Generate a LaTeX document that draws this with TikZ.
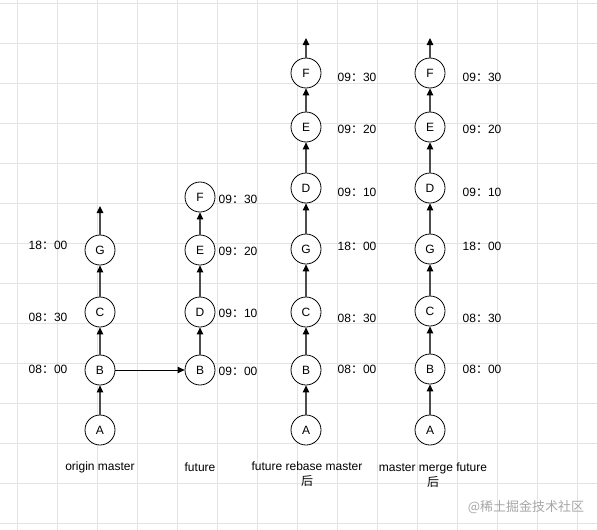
\documentclass[tikz,border=0pt]{standalone}
\usepackage{fontspec}
\setmainfont{Liberation Sans}
\newfontfamily\cjk{Noto Sans CJK SC}
\usetikzlibrary{arrows.meta}
\newcommand{\hm}[2]{#1{\cjk ：}#2}

\begin{document}
\begin{tikzpicture}[x=1pt,y=-1pt,font=\fontsize{12}{15}\selectfont,
  gridline/.style={draw=black!11,line width=0.7pt},
  commit/.style={circle,draw,fill=white,minimum size=30pt,inner sep=0pt,line width=0.8pt},
  edge/.style={draw=black!70,line width=1.2pt,-{Triangle[length=7pt,width=6.5pt,color=black]}},
  merge/.style={draw=black,line width=0.8pt,-{Triangle[length=7pt,width=6.5pt]}},
  caption/.style={align=center,font=\fontsize{12}{15}\selectfont}]
\useasboundingbox (0,0) rectangle (597,530);

% grid
\foreach \gx in {17,57,...,577} \draw[gridline] (\gx,0) -- (\gx,530);
\foreach \gy in {3,43,...,523} \draw[gridline] (0,\gy) -- (597,\gy);

% origin master
\node[commit] (omA) at (100,430) {A};
\node[commit] (omB) at (100,370) {B};
\node[commit] (omC) at (100,312) {C};
\node[commit] (omG) at (100,250) {G};
\coordinate (omtop) at (100,206);
\draw[edge] (omA) -- (omB);
\draw[edge] (omB) -- (omC);
\draw[edge] (omC) -- (omG);
\draw[edge] (omG) -- (omtop);
\node at (48,245) {\hm{18}{00}};
\node at (48,317) {\hm{08}{30}};
\node at (48,369) {\hm{08}{00}};
\node[caption] (omlabel) at (100,467) {origin master};

% future
\node[commit] (fuB) at (200,370) {B};
\node[commit] (fuD) at (200,312) {D};
\node[commit] (fuE) at (200,250) {E};
\node[commit] (fuF) at (200,197) {F};
\draw[edge] (fuB) -- (fuD);
\draw[edge] (fuD) -- (fuE);
\draw[edge] (fuE) -- (fuF);
\draw[merge] (omB) -- (fuB);
\node at (238,199) {\hm{09}{30}};
\node at (238,251) {\hm{09}{20}};
\node at (238,313) {\hm{09}{10}};
\node at (238,371) {\hm{09}{00}};
\node[caption] (fulabel) at (200,467) {future};

% future rebase master
\node[commit] (rbA) at (306,430) {A};
\node[commit] (rbB) at (306,370) {B};
\node[commit] (rbC) at (306,312) {C};
\node[commit] (rbG) at (306,249) {G};
\node[commit] (rbD) at (306,188) {D};
\node[commit] (rbE) at (306,127) {E};
\node[commit] (rbF) at (306,73) {F};
\coordinate (rbtop) at (306,38);
\draw[edge] (rbA) -- (rbB);
\draw[edge] (rbB) -- (rbC);
\draw[edge] (rbC) -- (rbG);
\draw[edge] (rbG) -- (rbD);
\draw[edge] (rbD) -- (rbE);
\draw[edge] (rbE) -- (rbF);
\draw[edge] (rbF) -- (rbtop);
\node at (357,77) {\hm{09}{30}};
\node at (357,129) {\hm{09}{20}};
\node at (357,192) {\hm{09}{10}};
\node at (357,246) {\hm{18}{00}};
\node at (357,318) {\hm{08}{30}};
\node at (357,369) {\hm{08}{00}};
\node[caption] (rblabel) at (307,474) {future rebase master\\{\cjk 后}};

% master merge future
\node[commit] (mgA) at (430,430) {A};
\node[commit] (mgB) at (430,369) {B};
\node[commit] (mgC) at (430,311) {C};
\node[commit] (mgG) at (430,249) {G};
\node[commit] (mgD) at (430,188) {D};
\node[commit] (mgE) at (430,127) {E};
\node[commit] (mgF) at (430,73) {F};
\coordinate (mgtop) at (430,38);
\draw[edge] (mgA) -- (mgB);
\draw[edge] (mgB) -- (mgC);
\draw[edge] (mgC) -- (mgG);
\draw[edge] (mgG) -- (mgD);
\draw[edge] (mgD) -- (mgE);
\draw[edge] (mgE) -- (mgF);
\draw[edge] (mgF) -- (mgtop);
\node at (482,77) {\hm{09}{30}};
\node at (482,129) {\hm{09}{20}};
\node at (482,192) {\hm{09}{10}};
\node at (482,246) {\hm{18}{00}};
\node at (482,318) {\hm{08}{30}};
\node at (482,369) {\hm{08}{00}};
\node[caption] (mglabel) at (433,475) {master merge future\\{\cjk 后}};

% watermark
\node[text=black!35,font=\cjk\fontsize{13}{15}\selectfont] (mark) at (526,507) {@稀土掘金技术社区};
\end{tikzpicture}
\end{document}
